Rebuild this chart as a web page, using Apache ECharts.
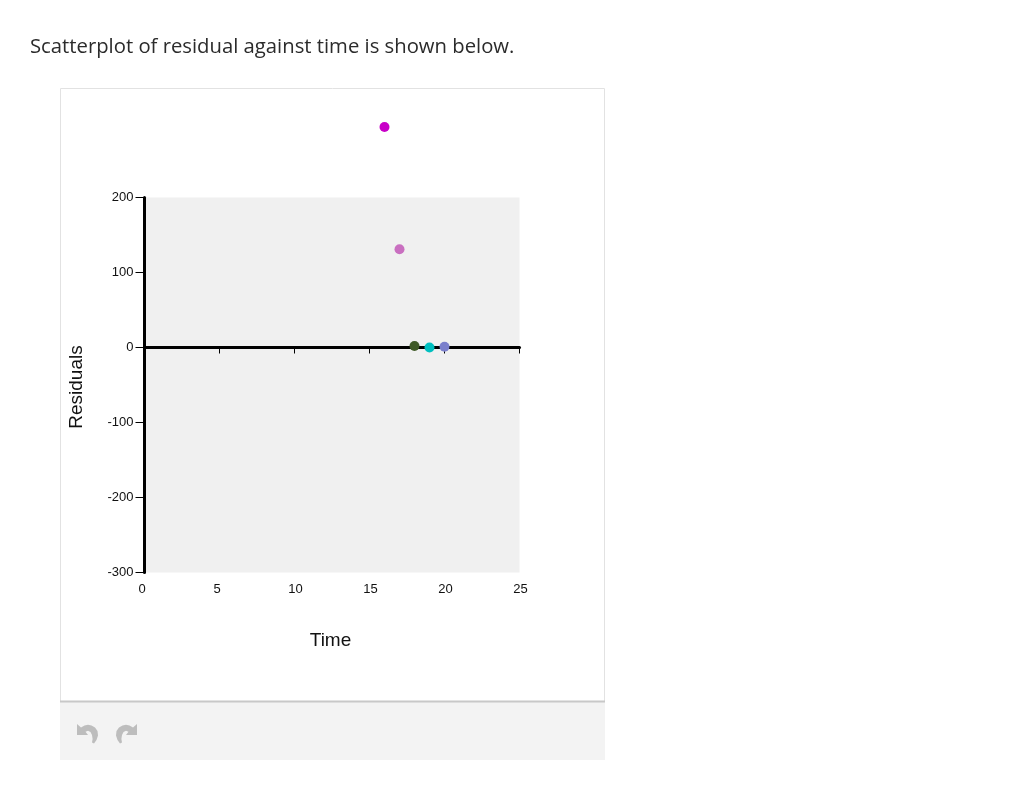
<!DOCTYPE html>
<html>
<head>
<meta charset="utf-8">
<style>html,body{margin:0;padding:0;background:#fff}#c{width:1024px;height:799px}</style>
<script src="https://cdn.jsdelivr.net/npm/echarts@6/dist/echarts.min.js"></script>
</head>
<body>
<div id="c"></div>
<script>
var titleText = 'Scatterplot of residual against time is shown below.';
var times = [16, 17, 18, 19, 20];
var residuals = [294, 131, 2, 0, 1];
var pointColors = ['#c800c8', '#c96fc0', '#3f5a27', '#00bfc0', '#7a7fcc'];
var xName = 'Time';
var yName = 'Residuals';

var undoIcon = [[77,724],[77,735],[88,735],[85.5,731.8],[88,730.8],[90.5,732],[92,735],[92.6,739],[92,742.6],[94,743.5],[96.5,740],[98,735.5],[97.5,731],[95,727.5],[91.5,725.4],[88,724.8],[84.5,725.4],[81,727.6]];
var redoIcon = undoIcon.map(function (p) { return [214 - p[0], p[1]]; });

var chart = echarts.init(document.getElementById('c'), null, {renderer: 'canvas'});
var fontFamily = '"Liberation Sans", Arial, sans-serif';
chart.setOption({
  animation: false,
  backgroundColor: '#fff',
  grid: {left: 144.5, right: 504.5, top: 197.5, bottom: 226.5, show: true, backgroundColor: '#f0f0f0', borderWidth: 0},
  xAxis: [
    {type: 'value', min: 0, max: 25, interval: 5, position: 'bottom',
     axisLine: {show: true, onZero: true, lineStyle: {color: '#000', width: 3}},
     axisTick: {show: true, length: 6, lineStyle: {color: '#000', width: 1}},
     axisLabel: {show: false}, splitLine: {show: false}},
    {type: 'value', min: 0, max: 25, interval: 5, position: 'bottom',
     name: xName, nameLocation: 'middle', nameGap: 59,
     nameTextStyle: {fontFamily: fontFamily, fontSize: 19, color: '#111', padding: [0, 3, 0, 0]},
     axisLine: {show: false, onZero: false}, axisTick: {show: false}, splitLine: {show: false},
     axisLabel: {margin: 10, showMinLabel: true, showMaxLabel: true, hideOverlap: false,
       fontFamily: fontFamily, fontSize: 13, color: '#111',
       formatter: function (v) { return v < 10 ? '{one|' + v + '}' : '{two|' + v + '}'; },
       rich: {
         one: {fontFamily: fontFamily, fontSize: 13, color: '#111', padding: [0, 5, 0, 0]},
         two: {fontFamily: fontFamily, fontSize: 13, color: '#111', padding: [0, 0, 0, 2]}
       }}}
  ],
  yAxis: {type: 'value', min: -300, max: 200, interval: 100,
    name: yName, nameLocation: 'middle', nameGap: 58,
    nameTextStyle: {fontFamily: fontFamily, fontSize: 19, color: '#111', padding: [0, 4, 0, 0]},
    axisLine: {show: true, onZero: false, lineStyle: {color: '#000', width: 3}},
    axisTick: {show: true, length: 9, lineStyle: {color: '#000', width: 1}},
    axisLabel: {margin: 11, showMinLabel: true, showMaxLabel: true, fontFamily: fontFamily, fontSize: 13, color: '#111'},
    splitLine: {show: false}},
  series: [{
    type: 'scatter', xAxisIndex: 0, clip: false, symbol: 'circle', symbolSize: 10, z: 5,
    data: times.map(function (t, i) {
      return {value: [t, residuals[i]], itemStyle: {color: pointColors[i], opacity: 1}};
    })
  }],
  graphic: [
    {type: 'rect', z: -3, silent: true, shape: {x: 60.5, y: 88.5, width: 544, height: 613},
     style: {fill: '#fff', stroke: '#e2e2e2', lineWidth: 1}},
    {type: 'rect', z: -2, silent: true, shape: {x: 60, y: 702, width: 545, height: 58}, style: {fill: '#f3f3f3'}},
    {type: 'rect', z: -1, silent: true, shape: {x: 60, y: 700.5, width: 545, height: 2}, style: {fill: '#c8c8c8'}},
    {type: 'text', silent: true, x: 30, y: 47,
     style: {text: titleText, fill: '#2b2b2b', font: '20.28px "Open Sans", sans-serif', verticalAlign: 'middle'}},
    {type: 'polygon', silent: true, shape: {points: undoIcon}, style: {fill: '#bdbdbd'}},
    {type: 'polygon', silent: true, shape: {points: redoIcon}, style: {fill: '#bdbdbd'}}
  ]
});
</script>
</body>
</html>
